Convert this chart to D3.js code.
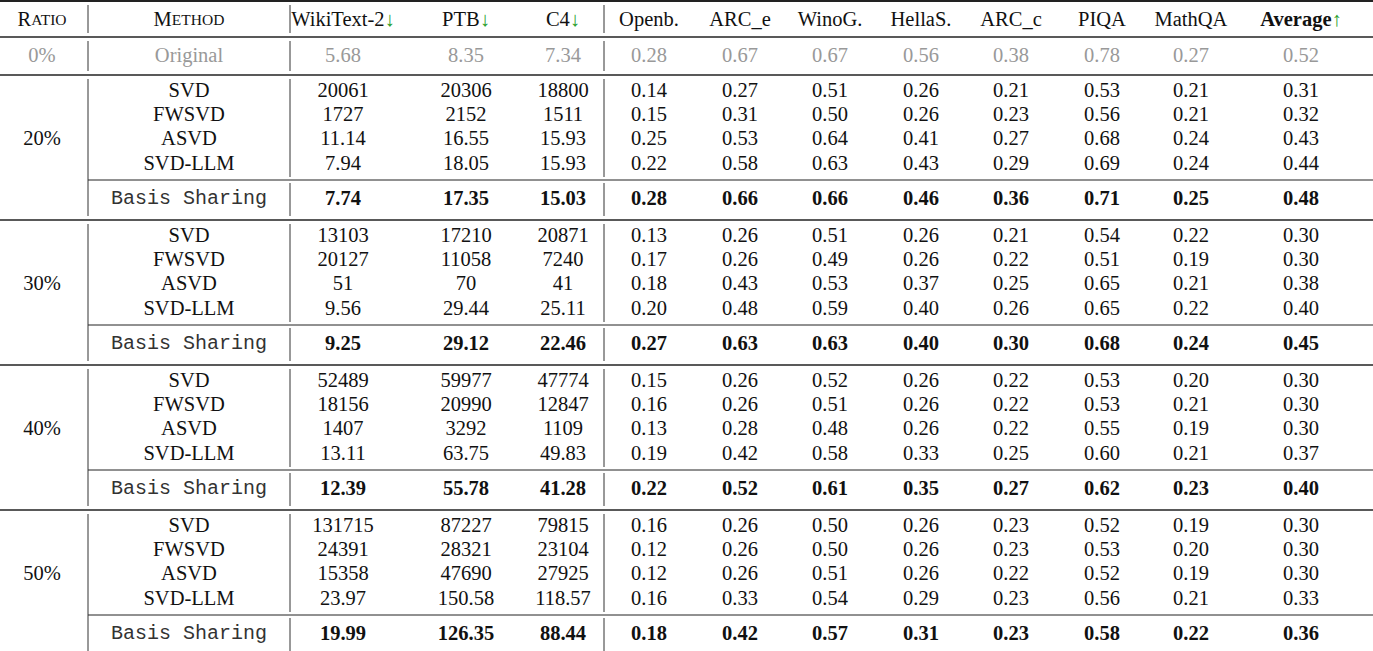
<!DOCTYPE html>
<html><head><meta charset="utf-8">
<script src="https://cdn.jsdelivr.net/npm/d3@7"></script>
<style>body{margin:0;background:#fff}</style>
</head><body>
<svg id="tbl" width="1373" height="651"></svg>
<script>
// table data
const columns = ["WikiText-2", "PTB", "C4", "Openb.", "ARC_e", "WinoG.", "HellaS.", "ARC_c", "PIQA", "MathQA", "Average"];
const arrows = {"WikiText-2": "↓", "PTB": "↓", "C4": "↓", "Average": "↑"};
const ratios = ["20%", "30%", "40%", "50%"];
const methods = ["SVD", "FWSVD", "ASVD", "SVD-LLM"];
const original = ["5.68", "8.35", "7.34", "0.28", "0.67", "0.67", "0.56", "0.38", "0.78", "0.27", "0.52"];
const results = [
  [["20061","20306","18800","0.14","0.27","0.51","0.26","0.21","0.53","0.21","0.31"],
   ["1727","2152","1511","0.15","0.31","0.50","0.26","0.23","0.56","0.21","0.32"],
   ["11.14","16.55","15.93","0.25","0.53","0.64","0.41","0.27","0.68","0.24","0.43"],
   ["7.94","18.05","15.93","0.22","0.58","0.63","0.43","0.29","0.69","0.24","0.44"]],
  [["13103","17210","20871","0.13","0.26","0.51","0.26","0.21","0.54","0.22","0.30"],
   ["20127","11058","7240","0.17","0.26","0.49","0.26","0.22","0.51","0.19","0.30"],
   ["51","70","41","0.18","0.43","0.53","0.37","0.25","0.65","0.21","0.38"],
   ["9.56","29.44","25.11","0.20","0.48","0.59","0.40","0.26","0.65","0.22","0.40"]],
  [["52489","59977","47774","0.15","0.26","0.52","0.26","0.22","0.53","0.20","0.30"],
   ["18156","20990","12847","0.16","0.26","0.51","0.26","0.22","0.53","0.21","0.30"],
   ["1407","3292","1109","0.13","0.28","0.48","0.26","0.22","0.55","0.19","0.30"],
   ["13.11","63.75","49.83","0.19","0.42","0.58","0.33","0.25","0.60","0.21","0.37"]],
  [["131715","87227","79815","0.16","0.26","0.50","0.26","0.23","0.52","0.19","0.30"],
   ["24391","28321","23104","0.12","0.26","0.50","0.26","0.23","0.53","0.20","0.30"],
   ["15358","47690","27925","0.12","0.26","0.51","0.26","0.22","0.52","0.19","0.30"],
   ["23.97","150.58","118.57","0.16","0.33","0.54","0.29","0.23","0.56","0.21","0.33"]]
];
const basis = [
  ["7.74","17.35","15.03","0.28","0.66","0.66","0.46","0.36","0.71","0.25","0.48"],
  ["9.25","29.12","22.46","0.27","0.63","0.63","0.40","0.30","0.68","0.24","0.45"],
  ["12.39","55.78","41.28","0.22","0.52","0.61","0.35","0.27","0.62","0.23","0.40"],
  ["19.99","126.35","88.44","0.18","0.42","0.57","0.31","0.23","0.58","0.22","0.36"]
];

const W = 1373, serif = "'Liberation Serif', 'Times New Roman', serif";
const mono = "'Liberation Mono', 'Courier New', monospace";
const svg = d3.select("#tbl");

// column centres
const x = d3.scaleOrdinal()
  .domain(["ratio", "method"].concat(columns))
  .range([42, 189, 343, 466, 563, 649, 740, 830, 921, 1011, 1102, 1191, 1301]);
const seps = [88, 290, 604];

// vertical positions: header, original, then blocks of 4 rows + basis row
const rowH = 24.2, blockH = 145;
const yBlock = d3.scaleLinear().domain([0, 1]).range([75, 75 + blockH]);

const cell = (px, py, txt, opt = {}) => svg.append("text")
  .attr("x", px).attr("y", py)
  .attr("text-anchor", "middle").attr("dominant-baseline", "central")
  .attr("font-family", opt.font || serif)
  .attr("font-size", opt.size || 20.5)
  .attr("font-weight", opt.bold ? "bold" : "normal")
  .attr("fill", opt.fill || "#111")
  .text(txt);

const hline = (y, x0, x1, w) => svg.append("line")
  .attr("x1", x0).attr("x2", x1).attr("y1", y).attr("y2", y)
  .attr("stroke", "#222").attr("stroke-width", w);
const vline = (xx, y0, y1) => svg.append("line")
  .attr("x1", xx).attr("x2", xx).attr("y1", y0).attr("y2", y1)
  .attr("stroke", "#333").attr("stroke-width", 1);

// header
const hy = 19;
const smallCaps = (px, first, rest) => {
  const t = svg.append("text").attr("x", px).attr("y", hy)
    .attr("text-anchor", "middle").attr("dominant-baseline", "central")
    .attr("font-family", serif).attr("font-size", 20.5).attr("fill", "#111");
  t.append("tspan").text(first);
  t.append("tspan").attr("font-size", 15.5).text(rest);
};
smallCaps(x("ratio"), "R", "ATIO");
smallCaps(x("method"), "M", "ETHOD");
columns.forEach(c => {
  const t = svg.append("text").attr("x", x(c)).attr("y", hy)
    .attr("text-anchor", "middle").attr("dominant-baseline", "central")
    .attr("font-family", serif).attr("font-size", 20.5).attr("fill", "#111")
    .attr("font-weight", c === "Average" ? "bold" : "normal");
  t.append("tspan").text(c);
  if (arrows[c]) t.append("tspan").attr("fill", "#2ca02c").attr("font-weight", "normal").text(arrows[c]);
});
hline(1, 0, W, 2);
hline(37, 0, W, 1.5);
seps.forEach(s => vline(s, 5, 33));

// original row
const oy = 55, grey = "#999";
cell(x("ratio"), oy, "0%", {fill: grey});
cell(x("method"), oy, "Original", {fill: grey});
columns.forEach((c, i) => cell(x(c), oy, original[i], {fill: grey}));
hline(75, 0, W, 1.5);
seps.forEach(s => vline(s, 41, 71));

// blocks
ratios.forEach((r, b) => {
  const top = yBlock(b);
  const rows = d3.range(4).map(i => top + 15 + i * rowH);
  const midLine = top + 105;
  const by = top + 123;
  cell(x("ratio"), rows[2], r);
  methods.forEach((m, i) => {
    cell(x("method"), rows[i], m);
    columns.forEach((c, j) => cell(x(c), rows[i], results[b][i][j]));
  });
  hline(midLine, 88, W, 1);
  cell(x("method"), by, "Basis Sharing", {font: mono, size: 20, fill: "#333"});
  columns.forEach((c, j) => cell(x(c), by, basis[b][j], {bold: true}));
  hline(top + blockH, 0, W, b === 3 ? 2 : 1.5);
  vline(seps[0], top + 4, top + blockH - 4);
  seps.slice(1).forEach(s => { vline(s, top + 4, midLine - 3); vline(s, midLine + 3, top + blockH - 4); });
});
</script>
</body></html>
